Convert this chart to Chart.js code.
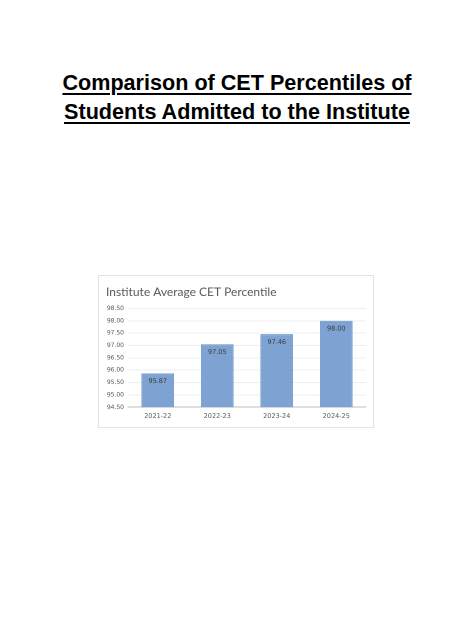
<!DOCTYPE html>
<html>
<head>
<meta charset="utf-8">
<script src="https://cdn.jsdelivr.net/npm/chart.js@4.4.1/dist/chart.umd.min.js"></script>
<style>
  html, body { margin: 0; padding: 0; background: #fff; }
  body { width: 474px; height: 632px; position: relative; overflow: hidden; }
  .page-title {
    position: absolute; left: 0; top: 68px; width: 474px; margin: 0;
    text-align: center; font-family: "Liberation Sans", Arial, sans-serif;
    font-weight: bold; font-size: 21.6px; line-height: 29.3px; color: #000;
    text-decoration: underline; text-decoration-thickness: 2px; text-underline-offset: 3px;
  }
  .chart-box {
    position: absolute; left: 98px; top: 275px; width: 274px; height: 151px;
    border: 1px solid #e3e3e3; background: #fff;
  }
  #cetChart { display: block; width: 274px; height: 151px; }
</style>
</head>
<body>
<h1 class="page-title">Comparison of CET Percentiles of<br>Students Admitted to the Institute</h1>
<div class="chart-box"><canvas id="cetChart" width="274" height="151"></canvas></div>
<script>
// chart data
const years = ['2021-22', '2022-23', '2023-24', '2024-25'];
const avgPercentile = [95.87, 97.05, 97.46, 98.00];
const yTicks = [94.5, 95.0, 95.5, 96.0, 96.5, 97.0, 97.5, 98.0, 98.5];

// value labels just inside the top of each bar
const barLabels = {
    id: 'barLabels',
    afterDatasetsDraw(chart) {
        const ctx = chart.ctx;
        const meta = chart.getDatasetMeta(0);
        ctx.save();
        ctx.font = '6.5px "DejaVu Sans", sans-serif';
        ctx.fillStyle = '#3a3a3a';
        ctx.textAlign = 'center';
        ctx.textBaseline = 'middle';
        meta.data.forEach(function(bar, i) {
            ctx.fillText(avgPercentile[i].toFixed(2), bar.x, bar.y + 8);
        });
        ctx.restore();
    }
};

const ctx = document.getElementById('cetChart').getContext('2d');
new Chart(ctx, {
    type: 'bar',
    data: {
        labels: years,
        datasets: [{
            data: avgPercentile,
            backgroundColor: '#7ea3d2',
            borderColor: '#7098cb',
            borderWidth: 1,
            categoryPercentage: 1.0,
            barPercentage: 0.55
        }]
    },
    options: {
        responsive: false,
        animation: false,
        devicePixelRatio: 2,
        layout: { padding: { left: 7, right: 7, top: 9, bottom: 2 } },
        plugins: {
            legend: { display: false },
            tooltip: { enabled: false },
            title: {
                display: true,
                text: 'Institute Average CET Percentile',
                align: 'start',
                color: '#595959',
                font: { family: 'Lato, "Open Sans", sans-serif', size: 12, weight: 'normal' },
                padding: { top: 0, bottom: 9 }
            }
        },
        scales: {
            x: {
                grid: { display: false, drawTicks: false },
                border: { color: '#bfbfbf' },
                ticks: { color: '#595959', font: { family: '"DejaVu Sans", sans-serif', size: 6.5 }, padding: 5 }
            },
            y: {
                min: yTicks[0],
                max: yTicks[yTicks.length - 1],
                afterBuildTicks(axis) { axis.ticks = yTicks.map(v => ({ value: v })); },
                afterFit(axis) { axis.width = 22; },
                grid: { color: '#eeeeee', drawTicks: false },
                border: { display: false },
                ticks: {
                    color: '#595959',
                    font: { family: '"DejaVu Sans", sans-serif', size: 6 },
                    padding: 4,
                    callback: v => Number(v).toFixed(2)
                }
            }
        }
    },
    plugins: [barLabels]
});
</script>
</body>
</html>
